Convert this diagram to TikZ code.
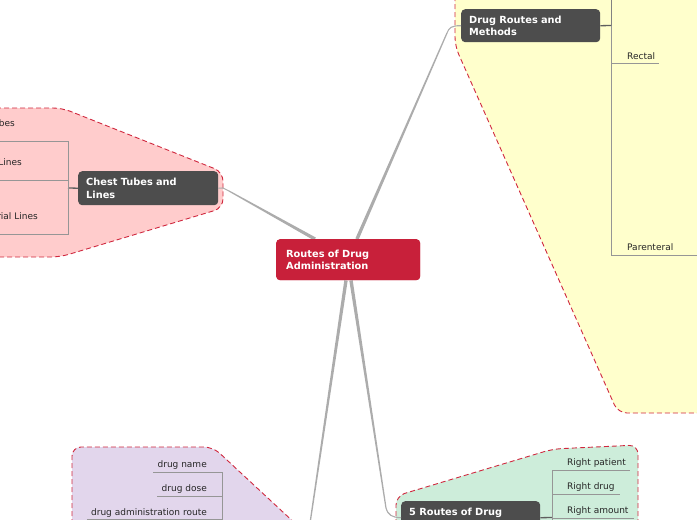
\documentclass[tikz,border=0pt]{standalone}
\usepackage{fontspec}
\setmainfont{DejaVu Sans}
\usetikzlibrary{calc}
\definecolor{ybg}{RGB}{255,255,204}
\definecolor{pbg}{RGB}{255,204,204}
\definecolor{gbg}{RGB}{205,237,218}
\definecolor{vbg}{RGB}{226,214,236}
\definecolor{dashred}{RGB}{208,40,62}
\definecolor{rootred}{RGB}{200,32,58}
\definecolor{topicgray}{RGB}{77,77,77}
\definecolor{conncol}{RGB}{172,172,172}
\definecolor{branchcol}{RGB}{150,150,150}
\newcommand\mmtaper[4]{\fill[conncol] ($#1!#3!90:#2$) -- ($#2!#4!-90:#1$) -- ($#2!#4!90:#1$) -- ($#1!#3!-90:#2$) -- cycle;}
\tikzset{
  region/.style={draw=dashred, line width=0.9pt, dash pattern=on 5pt off 3pt, rounded corners=9pt},
  topic/.style={fill=topicgray, text=white, rounded corners=4pt, inner xsep=8pt, inner ysep=0pt,
    font=\fontsize{9.8pt}{12.5pt}\selectfont\bfseries, align=left, anchor=north west},
  rootnode/.style={topic, fill=rootred, inner xsep=10pt},
  sub/.style={font=\fontsize{9pt}{10pt}\selectfont, text=black!85, inner sep=0pt},
  branch/.style={draw=branchcol, line width=0.9pt},
  link/.style={draw=topicgray!90, line width=1.3pt},
  thinconn/.style={draw=conncol, line width=1.1pt}
}
\begin{document}
\begin{tikzpicture}[x=1pt,y=-1pt]
\useasboundingbox (0,0) rectangle (697,520);
\clip (0,0) rectangle (697,520);
% regions
\fill[ybg, rounded corners=9pt] (720,-20) -- (455,-20) -- (455,46) -- (618,413) -- (720,413) -- cycle;
\path[region] (455,-20) -- (455,46) -- (618,413) -- (720,413);
\fill[pbg, rounded corners=9pt] (-20,108) -- (62,108) -- (223,172) -- (223,208) -- (60,257) -- (-20,257) -- cycle;
\path[region] (-20,108) -- (62,108) -- (223,172) -- (223,208) -- (60,257) -- (-20,257);
\fill[gbg, rounded corners=9pt] (396,540) -- (396,496) -- (553,449) -- (638,445) -- (638,540) -- cycle;
\path[region] (396,540) -- (396,496) -- (553,449) -- (638,445) -- (638,540);
\fill[vbg, rounded corners=9pt] (72,540) -- (72,447) -- (213,447) -- (313,540) -- cycle;
\path[region] (72,540) -- (72,447) -- (213,447) -- (313,540);

% topics
\node[rootnode, text width=124pt, minimum height=41pt] (root) at (276,239) {Routes of Drug\\Administration};
\node[topic, text width=123pt, minimum height=33pt] (drug) at (461,9) {Drug Routes and\\Methods};
\node[topic, text width=124pt, minimum height=34pt] (chest) at (78,171) {Chest Tubes and\\Lines};
\node[topic, text width=123pt, text height=8pt, text depth=12pt, inner ysep=6.5pt] (five) at (401,501) {5 Routes of Drug};

% connectors
\coordinate (upA) at ($(root.north west)+(81,0)$);
\coordinate (upB) at (447,33);
\coordinate (lfA) at ($(root.north west)+(39,0)$);
\coordinate (lfB) at (229,191);
\coordinate (blA) at ($(root.south west)+(70,0)$);
\coordinate (blB) at (309,530);
\coordinate (brA) at ($(root.south west)+(75,0)$);
\coordinate (brB) at (386,508);
\mmtaper{(upA)}{(upB)}{1.7pt}{0.6pt}
\draw[thinconn] (upB) .. controls (449,28) and (451,25.5) .. (drug.west);
\mmtaper{(lfA)}{(lfB)}{1.7pt}{0.6pt}
\draw[thinconn] (lfB) -- (223,188) -- (chest.east);
\mmtaper{(blA)}{(blB)}{1.7pt}{0.6pt}
\mmtaper{(brA)}{(brB)}{1.7pt}{0.6pt}
\draw[thinconn] (brB) .. controls (388,515) and (392,517.5) .. (five.west);
% redraw root on top
\node[rootnode, text width=124pt, minimum height=41pt] at (276,239) {Routes of Drug\\Administration};

% Drug Routes branches
\coordinate (dv) at (611,25.5);
\draw[link] (drug.east) -- (dv);
\draw[branch] (611,-5) -- (611,255) -- (700,255);
\draw[draw=topicgray!70, line width=1pt] (611,-5) -- (dv);
\draw[branch] (611,63) -- (659,63);
\node[sub, anchor=base west] (rectal) at (627,59.5) {Rectal};
\node[sub, anchor=base west] (parent) at (627,250.5) {Parenteral};

% Chest branches
\coordinate (cv) at (68,188);
\draw[link] (chest.west) -- (cv);
\draw[branch] (-5,141) -- (68,141) -- (68,234) -- (-5,234);
\draw[branch] (-5,180) -- (68,180);
\node[sub, anchor=base east] (c1) at (15,126.5) {bes};
\node[sub, anchor=base east] (c2) at (22,165.5) {Lines};
\node[sub, anchor=base east] (c3) at (38,219.5) {rial Lines};

% 5 routes branches
\coordinate (fv) at (552,517.5);
\draw[link] (five.east) -- (fv);
\draw[branch] (552,530) -- (552,470) -- (630,470);
\draw[branch] (552,494) -- (620,494);
\draw[branch] (552,518) -- (634,518);
\node[sub, anchor=base west] (r1) at (567,465.5) {Right patient};
\node[sub, anchor=base west] (r2) at (567,489.5) {Right drug};
\node[sub, anchor=base west] (r3) at (567,513.5) {Right amount};

% purple branches
\draw[branch] (153,472) -- (222,472) -- (222,530);
\draw[branch] (157,496) -- (222,496);
\draw[branch] (87,519.5) -- (222,519.5);
\node[sub, anchor=base east] (p1) at (207,467.5) {drug name};
\node[sub, anchor=base east] (p2) at (207,491.5) {drug dose};
\node[sub, anchor=base east] (p3) at (207,515.5) {drug administration route};
\end{tikzpicture}
\end{document}
